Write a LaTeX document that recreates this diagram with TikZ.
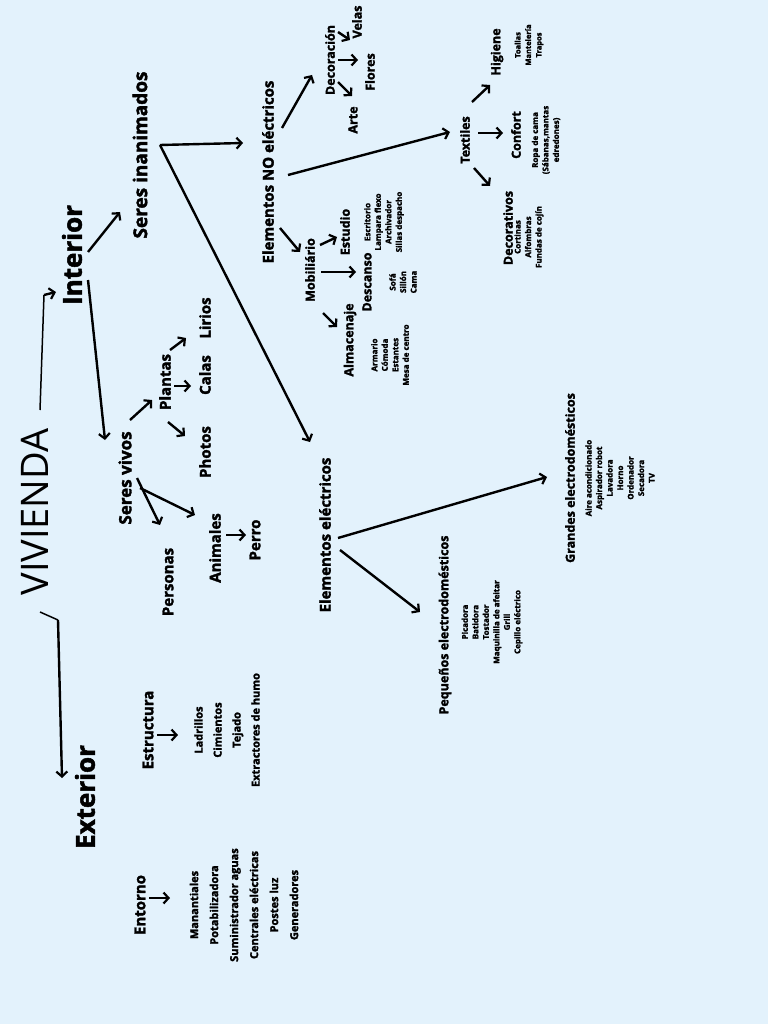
\documentclass[tikz,border=0pt]{standalone}
\usepackage{fontspec}
\setmainfont{Open Sans}[FakeBold=2]
\newfontfamily\thinfont{Open Sans}
\usetikzlibrary{arrows.meta}
\definecolor{bg}{HTML}{E3F2FC}
\begin{document}
\begin{tikzpicture}[x=1pt,y=-1pt,
 t/.style={rotate=90,inner sep=0pt,font=\bfseries\fontsize{#1}{#1}\selectfont},
 t/.default=16,
 l/.style 2 args={rotate=90,inner sep=0pt,align=center,font=\bfseries\fontsize{#1}{#2}\selectfont},
 a/.style={line width=2.4pt,-{Straight Barb[length=5pt,width=11pt,line width=2.2pt]}}]
\fill[bg] (0,0) rectangle (768,1024);
\useasboundingbox (0,0) rectangle (768,1024);
\node[rotate=90,inner sep=0pt,font=\thinfont\fontsize{38}{38}\selectfont] (viv) at (35,512) {VIVIENDA};
\node[t=26] (int) at (72,255) {Interior};
\node[t=26] (ext) at (85,797) {Exterior};
\coordinate (v1) at (40,410);
\coordinate (v2) at (40,612);
\coordinate (v3) at (44,295);
\coordinate (v4) at (58,620);
\draw[line width=1.5pt] (v1)--(v3);
\draw[a] (v3)--(56,292);
\draw[line width=1.5pt] (v2)--(v4);
\draw[a] (v4)--(62,778);
\node[t=19] (sin) at (140,155) {Seres inanimados};
\node[t=17] (sv) at (125,478) {Seres vivos};
\draw[a] (88,252)--(120,212);
\draw[a] (88,280)--(105,440);
\node[t=15] (pl) at (165,382) {Plantas};
\node[t=15] (li) at (205,318) {Lirios};
\node[t=15] (ca) at (205,375) {Calas};
\node[t=15] (ph) at (205,452) {Photos};
\node[t=15] (pe) at (168,582) {Personas};
\node[t=15] (an) at (215,548) {Animales};
\node[t=15] (perro) at (255,540) {Perro};
\draw[a] (130,420)--(152,400);
\draw[a] (137,478)--(160,525);
\draw[a] (140,488)--(195,515);
\draw[a] (170,350)--(186,338);
\draw[a] (174,386)--(191,386);
\draw[a] (168,422)--(185,436);
\draw[a] (226,535)--(246,535);
\node[t=15] (ene) at (268,172) {Elementos NO eléctricos};
\node[t=15] (ee) at (325,535) {Elementos eléctricos};
\draw[a] (160,145)--(243,143);
\draw[a] (160,145)--(310,442);
\node[t=12.5] (dec) at (330,60) {Decoración};
\node[t=12.5] (velas) at (357,22) {Velas};
\node[t=12.5] (flo) at (370,72) {Flores};
\node[t=12.5] (arte) at (353,120) {Arte};
\draw[a] (282,128)--(312,75);
\draw[a] (338,32)--(350,40);
\draw[a] (338,60)--(358,60);
\draw[a] (338,82)--(352,96);
\node[t=12.5] (tex) at (465,140) {Textiles};
\draw[a] (288,175)--(450,132);
\node[t=12.5] (mob) at (310,270) {Mobiliário};
\draw[a] (280,228)--(300,252);
\node[t=12.5] (est) at (345,232) {Estudio};
\node[t=12.5] (des) at (367,282) {Descanso};
\node[t=12.5] (alm) at (350,340) {Almacenaje};
\draw[a] (320,245)--(337,237);
\draw[a] (321,272)--(356,272);
\draw[a] (323,313)--(337,327);
\node[l={8}{10.5}] at (384,222) {Escritorio\\Lampara flexo\\Archivador\\Sillas despacho};
\node[l={8}{10.5}] at (403,282) {Sofá\\Sillón\\Cama};
\node[l={8}{10.5}] at (390,355) {Armario\\Cómoda\\Estantes\\Mesa de centro};
\node[t=12.5] (hig) at (497,52) {Higiene};
\node[t=12.5] (conf) at (516,135) {Confort};
\node[t=12.5] (deco) at (508,228) {Decorativos};
\draw[a] (472,102)--(490,85);
\draw[a] (478,133)--(503,133);
\draw[a] (474,168)--(490,186);
\node[l={7.5}{10.5}] at (529,45) {Toallas\\Mantelería\\Trapos};
\node[l={8}{10.5}] at (546,140) {Ropa de cama\\(Sábanas,mantas\\edredones)};
\node[l={8}{10.5}] at (529,237) {Cortinas\\Alfombras\\Fundas de cojín};
\node[t=12.5] (gr) at (570,478) {Grandes electrodomésticos};
\node[t=12.5] (peq) at (445,625) {Pequeños electrodomésticos};
\draw[a] (338,538)--(547,477);
\draw[a] (340,550)--(420,612);
\node[l={8}{10.5}] at (620,478) {Aire acondicionado\\Aspirador robot\\Lavadora\\Horno\\Ordenador\\Secadora\\TV};
\node[l={8}{10.5}] at (492,622) {Picadora\\Batidora\\Tostador\\Maquinilla de afeitar\\Grill\\Cepillo eléctrico};
\node[t=15] (estr) at (148,730) {Estructura};
\draw[a] (157,735)--(178,735);
\node[l={11}{19}] at (227,730) {Ladrillos\\Cimientos\\Tejado\\Extractores de humo};
\node[t=15] (ent) at (140,905) {Entorno};
\draw[a] (149,898)--(170,898);
\node[l={11}{20}] at (244,905) {Manantiales\\Potabilizadora\\Suministrador aguas\\Centrales eléctricas\\Postes luz\\Generadores};
\end{tikzpicture}
\end{document}
